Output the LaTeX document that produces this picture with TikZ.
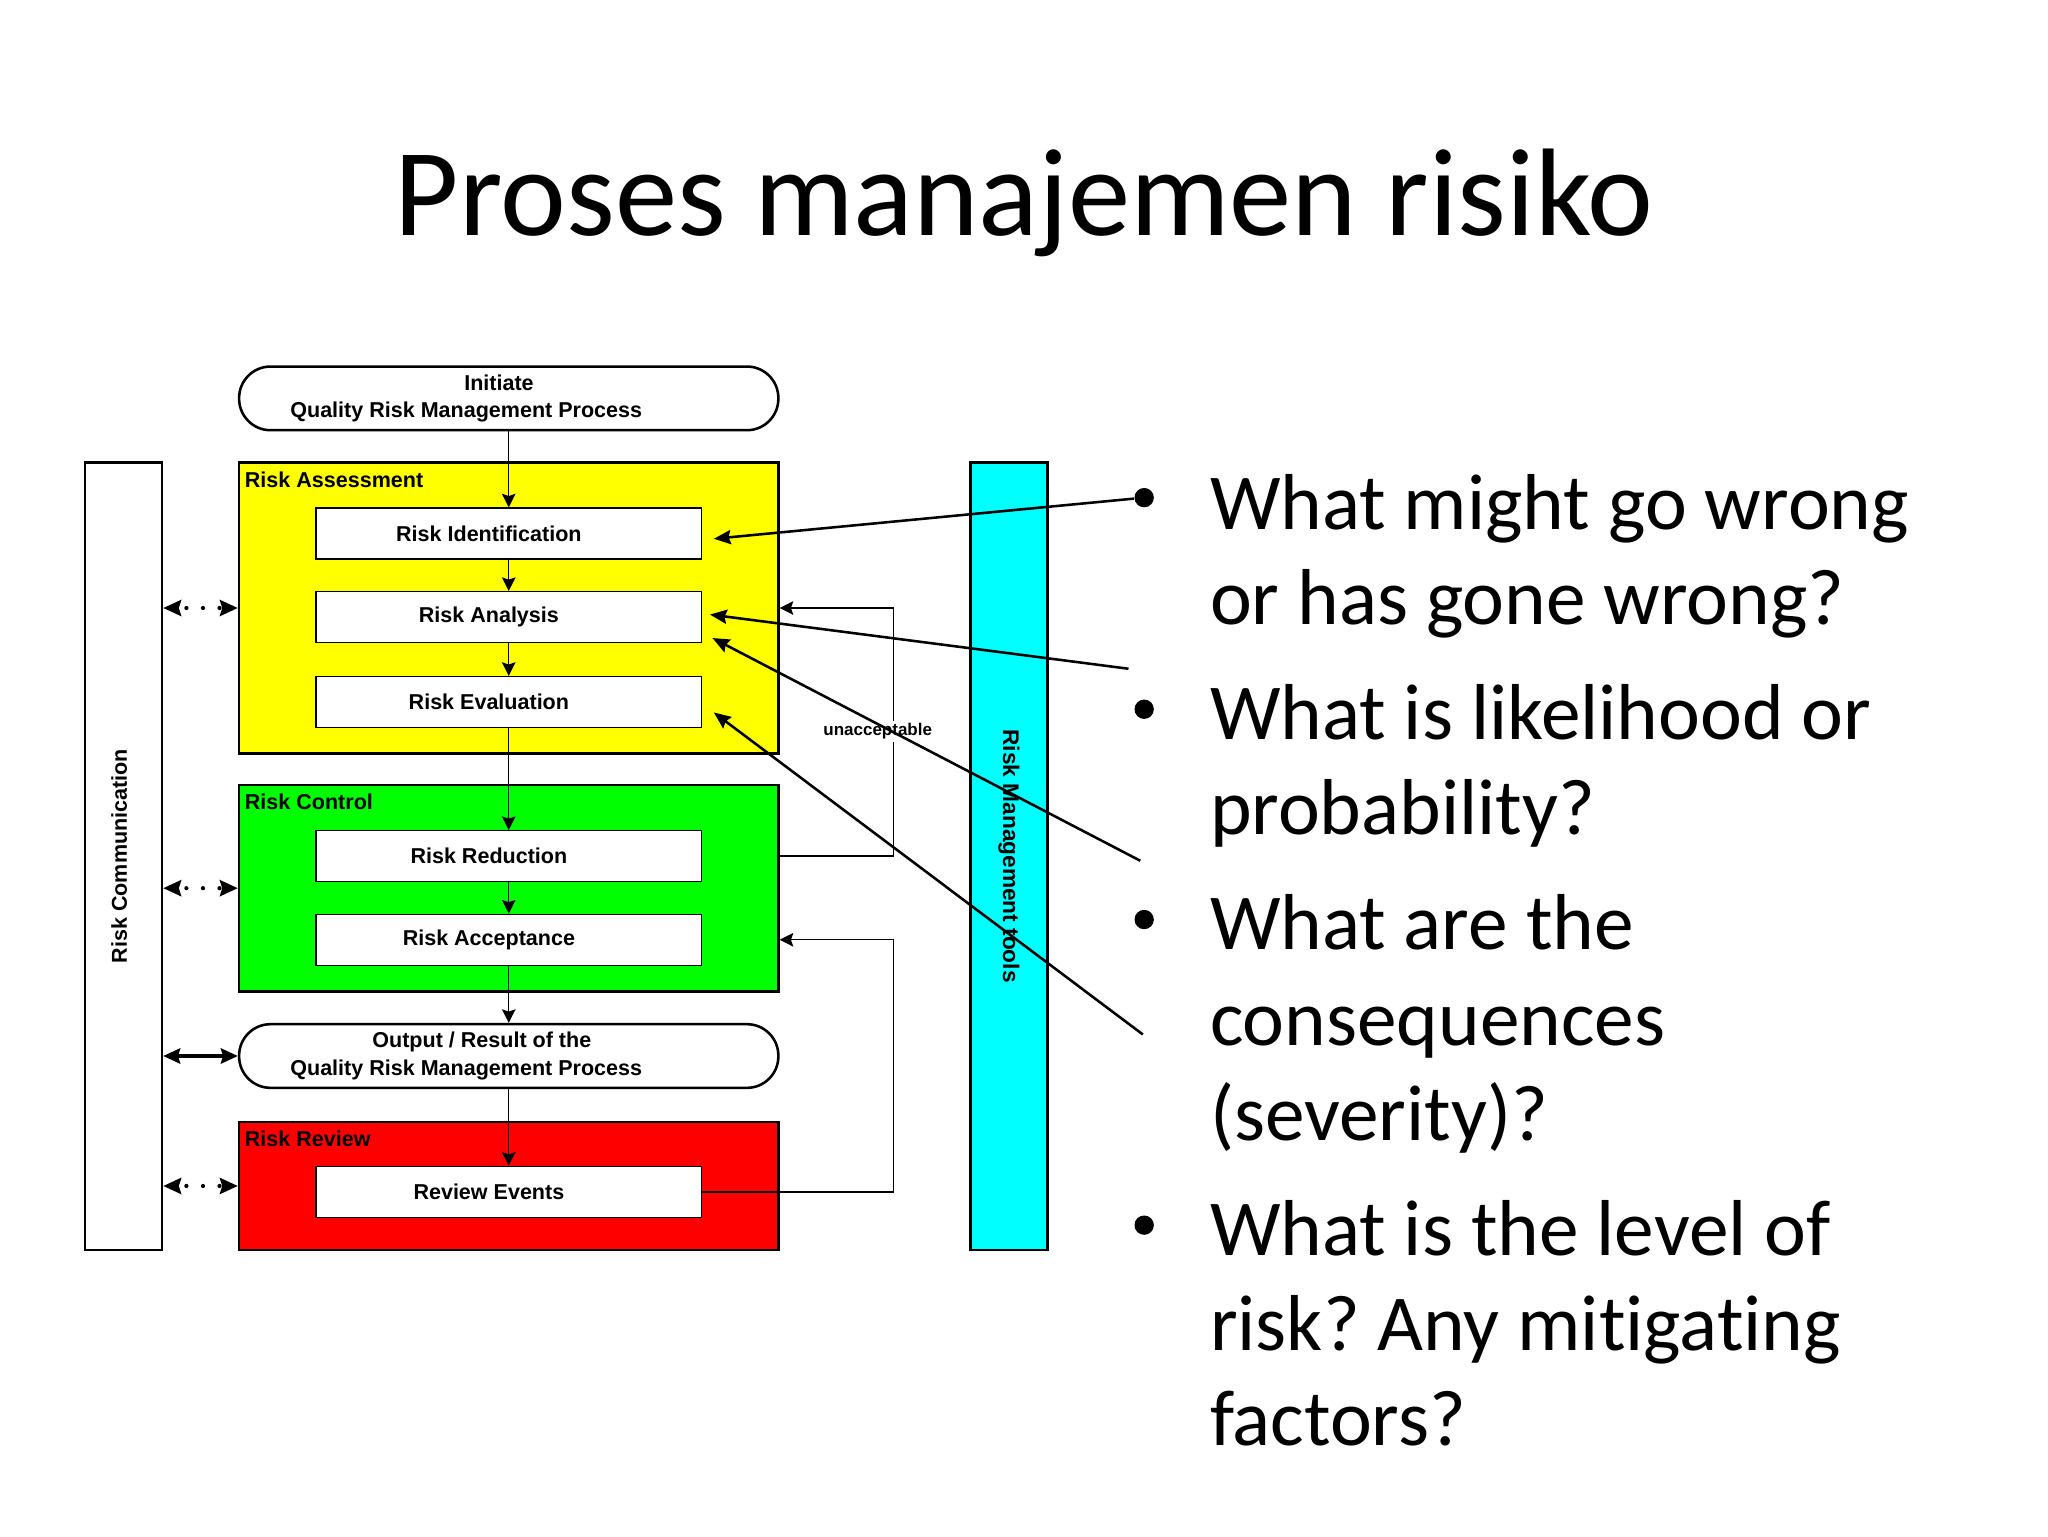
\documentclass[tikz,border=0pt]{standalone}
\usepackage{fontspec}
\setmainfont{Carlito}[Ligatures=NoCommon]
\newfontfamily\diagfont{Liberation Sans}
\usetikzlibrary{arrows.meta}
\frenchspacing
\definecolor{assessfill}{RGB}{255,255,0}
\definecolor{controlfill}{RGB}{0,255,0}
\definecolor{reviewfill}{RGB}{255,0,0}
\definecolor{toolsfill}{RGB}{0,255,255}

\begin{document}
\begin{tikzpicture}[x=0.0162cm, y=-0.0162cm,
  diag/.style={font=\diagfont\bfseries\fontsize{7.6}{9.6}\selectfont},
  stage/.style={draw, line width=0.9pt, minimum width=6.69cm, inner sep=0pt},
  box/.style={diag, draw, line width=0.5pt, fill=white, minimum width=4.78cm, minimum height=0.632cm, inner sep=0pt, execute at end node={\hspace{14pt}}},
  pill/.style={diag, draw, line width=0.9pt, fill=white, rounded corners=0.39cm, minimum width=6.69cm, minimum height=0.79cm, inner sep=0pt, align=center},
  bar/.style={diag, draw, line width=0.9pt, minimum width=0.956cm, minimum height=9.77cm, inner sep=0pt},
  tag/.style={diag, anchor=base west, inner sep=0pt},
  flow/.style={line width=0.5pt, -{Stealth[length=4.8pt, width=4.8pt, inset=0.8pt]}},
  talk/.style={line width=1.5pt, line cap=round, dash pattern=on 0pt off 5.85pt, dash phase=2.8pt, {Stealth[length=6.3pt, width=5.6pt, inset=0.8pt]}-{Stealth[length=6.3pt, width=5.6pt, inset=0.8pt]}},
  both/.style={line width=1.1pt, {Stealth[length=6pt, width=5.4pt, inset=0.8pt]}-{Stealth[length=6pt, width=5.4pt, inset=0.8pt]}},
  link/.style={line width=0.9pt, -{Stealth[length=6pt, width=5pt, inset=0.8pt]}},
  ask/.style={font=\fontsize{28}{33.6}\selectfont, anchor=base west, align=left, inner sep=0pt},
  dot/.style={circle, fill=black, inner sep=0pt, minimum size=0.24cm}]
\path[use as bounding box, fill=white] (0,0) rectangle (1568,1176);

% title
\node[font=\fontsize{44}{53}\selectfont, anchor=base, inner sep=0pt] (title) at (784,180) {Proses manajemen risiko};

% side bars
\node[bar, fill=white] (comm) at (94.5,655.5) {\rotatebox{90}{Risk Communication}\hspace*{3pt}};
\node[bar, fill=toolsfill, font=\diagfont\bfseries\fontsize{8}{9.6}\selectfont] (tools) at (772.5,655.5) {\rotatebox{-90}{Risk Management tools}};

% stages
\node[pill] (initiate) at (389.5,305) {Initiate\hspace*{6.9pt}\\Quality Risk Management Process\hspace*{30pt}};
\node[stage, fill=assessfill, minimum height=3.61cm] (assess) at (389.5,465.5) {};
\node[tag] (assesslbl) at ([shift={(5,20)}]assess.north west) {Risk Assessment};
\node[box] (ident) at (389.5,408.5) {Risk Identification};
\node[box] (analysis) at (389.5,472.5) {Risk Analysis};
\node[box] (evaluation) at (389.5,537.5) {Risk Evaluation};

\node[stage, fill=controlfill, minimum height=2.56cm] (control) at (389.5,680) {};
\node[tag] (controllbl) at ([shift={(5,20)}]control.north west) {Risk Control};
\node[box] (reduction) at (389.5,655.5) {Risk Reduction};
\node[box] (acceptance) at (389.5,719.5) {Risk Acceptance};

\node[pill] (output) at (389.5,808.5) {Output / Result of the\hspace*{19pt}\\Quality Risk Management Process\hspace*{30pt}};

\node[stage, fill=reviewfill, minimum height=1.59cm] (review) at (389.5,908) {};
\node[tag] (reviewlbl) at ([shift={(5,20)}]review.north west) {Risk Review};
\node[box] (events) at (389.5,912.5) {Review Events};

% main flow
\draw[flow] (initiate) -- (ident);
\draw[flow] (ident) -- (analysis);
\draw[flow] (analysis) -- (evaluation);
\draw[flow] (evaluation) -- (reduction);
\draw[flow] (reduction) -- (acceptance);
\draw[flow] (acceptance) -- (output);
\draw[flow] (output) -- (events);

% communication
\draw[talk] (assess.west -| comm.east) -- (assess.west);
\draw[talk] (control.west -| comm.east) -- (control.west);
\draw[both] (output.west -| comm.east) -- (output.west);
\draw[talk] (review.west -| comm.east) -- (review.west);

% feedback loops
\coordinate (loop) at (684,0);
\draw[flow] (reduction.east -| control.east) -| (loop |- assess.east) -- (assess.east);
\draw[flow] (events.east) -| (loop |- acceptance.east) -- (acceptance.east -| control.east);
\node[diag, font=\diagfont\bfseries\fontsize{6}{7}\selectfont, fill=white, inner sep=1pt] (unacc) at (672,560) {unacceptable};

% questions
\node[dot] (b1) at (876,381) {};
\node[dot] (b2) at (876,543) {};
\node[dot] (b3) at (876,704) {};
\node[dot] (b4) at (876,938) {};
\node[ask] (q1) at (926,478) {What might go wrong\\or has gone wrong?};
\node[ask] (q2) at (926,639) {What is likelihood or\\probability?};
\node[ask] (q3) at (926,873) {What are the\\consequences\\(severity)?};
\node[ask] (q4) at (926,1107) {What is the level of\\risk? Any mitigating\\factors?};

% pointers
\coordinate (c2) at (864,512);
\coordinate (c3) at (873,659);
\coordinate (c4) at (875,792);
\draw[link] (b1) -- ([shift={(9,4)}]ident.east);
\draw[link] (c2) -- ([shift={(6,-2)}]analysis.east);
\draw[link] (c3) -- ([shift={(8,16)}]analysis.east);
\draw[link] (c4) -- ([shift={(9,8)}]evaluation.east);
\end{tikzpicture}
\end{document}
